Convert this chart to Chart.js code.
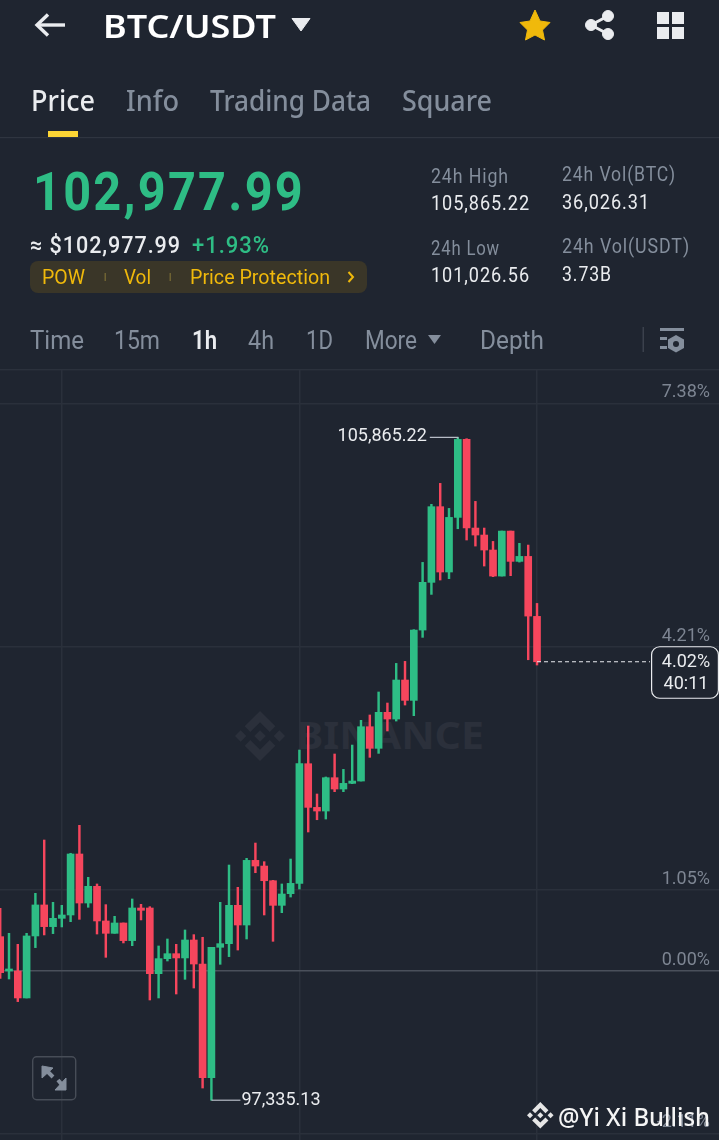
<!DOCTYPE html>
<html><head><meta charset="utf-8">
<script src="https://cdn.jsdelivr.net/npm/chart.js@4/dist/chart.umd.js"></script>
<style>
html,body{margin:0;padding:0;background:#1f2530;width:719px;height:1140px;overflow:hidden}
#page{position:relative;width:719px;height:1140px;overflow:hidden;background:#1f2530}
.t{position:absolute;z-index:3;white-space:nowrap;transform-origin:0 50%;font-family:"Noto Sans",sans-serif;line-height:1.2}
.s{position:absolute}
#bg{z-index:0}
#wrap{position:absolute;z-index:1;left:0;top:370px;width:719px;height:770px}
#fg{z-index:2}
</style></head><body><div id="page">
<svg class="s" style="left:0;top:0" width="719" height="1140" id="bg"></svg>
<div id="wrap"><canvas id="c" width="719" height="770"></canvas></div>
<svg class="s" style="left:0;top:0;pointer-events:none" width="719" height="1140" id="fg"></svg>
</div>
<script>
// ---- chart data ----
const candleIndex=[-1,0,1,2,3,4,5,6,7,8,9,10,11,12,13,14,15,16,17,18,19,20,21,22,23,24,25,26,27,28,29,30,31,32,33,34,35,36,37,38,39,40,41,42,43,44,45,46,47,48,49,50,51,52,53,54,55,56,57,58,59,60];
const opens=[99440,98998,98998,98651,99449,99848,99569,99676,99719,100504,99873,100088,99642,99483,99616,99389,99809,99809,98964,99157,99221,99166,99397,99088,97625,99303,99350,99843,99590,100422,100349,100160,99843,99993,100126,101666,101104,101057,101486,101340,101413,101443,102142,101864,102327,102241,102743,102481,103386,104000,104974,104133,104836,105840,104699,104609,104416,104081,104660,104270,104334,103562];
const highs=[99805,99483,99341,99483,99998,100684,99882,99843,100513,100873,100204,100118,99852,99702,99616,99925,99856,99826,99320,99410,99341,99526,99466,99432,99303,99882,100362,100075,100448,100645,100405,100165,100118,100439,101842,102151,101276,101495,101791,101593,101906,102224,102293,102589,102447,102957,102983,103391,104257,105004,105274,104952,105865.22,105849,105042,104699,104527,104660,104660,104502,104480,103729];
const lows=[98904,98895,98604,98651,99299,99462,99479,99565,99633,99663,99818,99474,99174,99483,99359,99324,99655,98625,98651,99127,98702,98891,98779,97492,97335.13,99084,99183,99268,99410,100263,99719,99380,99749,99950,100053,100787,100945,100954,101306,101306,101409,101443,101748,101799,102087,102215,102421,102284,103292,103845,104030,104047,104690,104545,104467,104210,104073,104081,104086,104261,103004,102936];
const closes=[98977,99024,98651,99449,99848,99569,99676,99719,100504,99873,100088,99642,99483,99616,99389,99809,99779,98964,99157,99221,99166,99397,99088,97625,99303,99350,99843,99590,100422,100349,100160,99843,99989,100126,101666,101104,101057,101486,101340,101413,101443,102142,101864,102327,102241,102743,102481,103386,104000,104974,104133,104836,105840,104699,104609,104416,104081,104660,104270,104334,103566,102977.99];
const baselinePrice=98998;
const gridPercents=[7.38,4.21,1.05,0,-2.11];
const gridLabels=["7.38%","4.21%","1.05%","0.00%","-2.11%"];
const verticalGrid=[6,33,60];
const highLabel="105,865.22", lowLabel="97,335.13";
const lastLabel="4.02%", countdownLabel="40:11";

const GREEN="#2ebd85", RED="#f6465d", GREY="#848e9c";
const up=candleIndex.map((k,i)=>closes[i]>=opens[i]);
const colors=up.map(u=>u?GREEN:RED);

// ---- page furniture ----
const page=document.getElementById('page');
function T(text,x,w,cy,size,color,weight,family,extra){
  const d=document.createElement('div');d.className='t';d.textContent=text;
  d.style.cssText+=`left:${x}px;font-size:${size}px;color:${color};font-weight:${weight||400};top:${cy-size*0.6}px;`+(family?`font-family:${family};`:'')+(extra||'');
  page.appendChild(d);
  const real=d.getBoundingClientRect().width;
  d.style.transform=`scaleX(${w/real})`;
  return d;
}
const NS='"Noto Sans",sans-serif', RB='Roboto,sans-serif';
const SP1='letter-spacing:1px;', SP3='letter-spacing:2.5px;';
T("BTC/USDT",103,173,26,33,"#fff",600,NS);
T("Price",31,64,101,28,"#eaecef",500,NS);
T("Info",126,53,101,28,GREY,500,NS);
T("Trading Data",210,161,101,28,GREY,500,NS);
T("Square",402,90,101,28,GREY,500,NS);
T("102,977.99",33,272,192,54,GREEN,700,RB,SP3);
T("≈ $102,977.99",30,151,246,23,"#eaecef",500,RB,SP1);
T("+1.93%",192,78,246,23,GREEN,500,RB,SP1);
T("POW",42,43,277,20,"#f0b90b",400,RB);
T("Vol",124,27,277,20,"#f0b90b",400,RB);
T("Price Protection",190,140,277,20,"#f0b90b",400,RB);
T("24h High",431,78,176,20,GREY,400,RB,SP1);
T("105,865.22",431,99,204,19.5,"#eaecef",400,RB,SP1);
T("24h Vol(BTC)",562,114,174,20,GREY,400,RB,SP1);
T("36,026.31",562,88,203,19.5,"#eaecef",400,RB,SP1);
T("24h Low",431,69,248,20,GREY,400,RB,SP1);
T("101,026.56",431,99,276,19.5,"#eaecef",400,RB,SP1);
T("24h Vol(USDT)",562,128,246,20,GREY,400,RB,SP1);
T("3.73B",562,50,275,19.5,"#eaecef",400,RB,SP1);
T("Time",30,54,341,25,GREY,400,RB);
T("15m",114,46,341,25,GREY,400,RB);
T("1h",192,25,341,25,"#eaecef",600,RB);
T("4h",248,26,341,25,GREY,400,RB);
T("1D",306,27,341,25,GREY,400,RB);
T("More",365,52,341,25,GREY,400,RB);
T("Depth",480,64,341,25,GREY,400,RB);
T("@Yi Xi Bullish",558,152,1116,25,"#f5f5f5",500,NS);
T("BINANCE",296,188,735,38,"#2b303b",700,NS).style.zIndex=0;

const logo=`<path d="m38.73 53.2 24.59-24.58 24.6 24.6 14.3-14.31L63.32 0 24.43 38.9z"/><path d="m0 63.31 14.3-14.31 14.31 14.31-14.31 14.3z"/><path d="m38.73 73.41 24.59 24.59 24.6-24.6 14.31 14.29-38.9 38.91-38.91-38.88z"/><path d="m98 63.31 14.3-14.31 14.31 14.3-14.31 14.32z"/><path d="m77.83 63.3-14.51-14.52-10.73 10.73-1.24 1.23-2.54 2.54 14.51 14.5 14.51-14.52z"/>`;
document.getElementById('bg').innerHTML=
 `<g transform="translate(235,711) scale(0.395)" fill="#2b303b">${logo}</g>`;
document.getElementById('fg').innerHTML=`
 <g stroke="#eaecef" stroke-width="3.4" fill="none"><path d="M37 25H65"/><path d="M48 14.5L37 25L48 35.5"/></g>
 <path d="M292 18.5H310L301 31Z" fill="#eaecef" stroke="#eaecef" stroke-linejoin="round"/>
 <path d="M535 10L540 21L550 22.5L542.5 30L544.5 40L535 35L525.5 40L527.5 30L520 22.5L530 21Z" fill="#f0b90b" stroke="#f0b90b" stroke-linejoin="round"/>
 <g fill="#eaecef" stroke="#eaecef"><circle cx="608" cy="16" r="5.5"/><circle cx="591" cy="25" r="5.5"/><circle cx="608" cy="34" r="5.5"/><path d="M608 16L591 25L608 34" fill="none" stroke-width="3"/></g>
 <g fill="#eaecef"><rect x="657" y="12" width="12" height="12"/><rect x="672" y="12" width="12" height="12"/><rect x="657" y="27" width="12" height="12"/><rect x="672" y="27" width="12" height="12"/></g>
 <rect x="48" y="131" width="30" height="6" fill="#fcd535"/>
 <rect x="0" y="137" width="719" height="1.2" fill="#2f3540"/>
 <rect x="30" y="261" width="337" height="32" rx="8" fill="#3a3628"/>
 <rect x="104.5" y="273" width="1.5" height="8" fill="#6e6232"/><rect x="169.5" y="273" width="1.5" height="8" fill="#6e6232"/>
 <path d="M348.5 272L353 277L348.5 282" fill="none" stroke="#f0b90b" stroke-width="2"/>
 <path d="M428 335H441L434.5 344Z" fill="${GREY}"/>
 <rect x="642.5" y="327" width="1.5" height="25" fill="#3b414c"/>
 <g fill="${GREY}"><rect x="660" y="328" width="24" height="3"/><rect x="660" y="337" width="7" height="3"/><rect x="660" y="346" width="7" height="3"/>
 <path d="M676 335L684 339.5V348L676 352.5L668 348V339.5Z"/><circle cx="676" cy="344" r="3" fill="#1f2530"/></g>
 <rect x="0" y="369" width="719" height="1.4" fill="#2b313c"/>
 <rect x="32.7" y="1056.7" width="43" height="43" rx="4" fill="none" stroke="#474d57" stroke-width="1.4"/>
 <g fill="${GREY}" stroke="${GREY}"><path d="M42 1066L53 1068L42 1078Z"/><path d="M66 1090L55 1090L66 1078Z"/><path d="M46 1070L53 1077M58 1080L63 1086" stroke-width="4" fill="none"/></g>
 <g transform="translate(527,1102) scale(0.21)" fill="#e6e6e6">${logo}</g>`;

// ---- chart ----
const annot={id:'annot',afterDatasetsDraw(ch){
  const c=ch.ctx,X=ch.scales.x,Y=ch.scales.y;
  const hi=highs.indexOf(Math.max(...highs)), lo=lows.indexOf(Math.min(...lows));
  const hx=X.getPixelForValue(candleIndex[hi]), hy=Y.getPixelForValue(highs[hi]);
  const lx=X.getPixelForValue(candleIndex[lo]), ly=Y.getPixelForValue(lows[lo]);
  const last=closes[closes.length-1], lastX=X.getPixelForValue(candleIndex[candleIndex.length-1]), lastY=Y.getPixelForValue(last);
  c.save();
  c.strokeStyle="#b7bdc6";c.lineWidth=1.2;
  c.beginPath();c.moveTo(hx,hy+1);c.lineTo(hx,hy);c.lineTo(hx-28,hy);c.stroke();
  c.beginPath();c.moveTo(lx,ly);c.lineTo(lx+29,ly);c.stroke();
  c.font='18px Roboto';c.fillStyle='#eaecef';c.textBaseline='middle';
  c.textAlign='right';c.fillText(highLabel,hx-31,hy-1);
  c.textAlign='left';c.fillText(lowLabel,lx+30,ly);
  c.strokeStyle='#eaecef';c.lineWidth=1.1;c.setLineDash([4,3]);
  c.beginPath();c.moveTo(lastX,lastY);c.lineTo(650,lastY);c.stroke();c.setLineDash([]);
  c.fillStyle='#1f2530';c.strokeStyle='#eaecef';c.lineWidth=1.2;
  c.beginPath();c.roundRect(651.6,lastY-15,66.8,51.5,8);c.fill();c.stroke();
  c.fillStyle='#eaecef';c.textAlign='center';c.font='18px Roboto';
  c.fillText(lastLabel,686,lastY+1);c.fillText(countdownLabel,686,lastY+23);
  c.restore();
}};
new Chart(document.getElementById('c'),{
  type:'bar',
  data:{datasets:[
    {data:candleIndex.map((k,i)=>({x:k,y:[lows[i],highs[i]]})),backgroundColor:colors,barThickness:1.8,grouped:false,borderWidth:0},
    {data:candleIndex.map((k,i)=>({x:k,y:[Math.min(opens[i],closes[i]),Math.max(opens[i],closes[i])]})),backgroundColor:colors,barThickness:7,minBarLength:2,grouped:false,borderWidth:0}
  ]},
  plugins:[annot],
  options:{responsive:false,animation:false,devicePixelRatio:1,
    layout:{padding:0},
    plugins:{legend:{display:false},tooltip:{enabled:false}},
    scales:{
      x:{type:'linear',min:-1.0227,max:80.68,offset:false,
        afterBuildTicks:a=>{a.ticks=verticalGrid.map(v=>({value:v}))},
        afterFit:a=>{a.height=0;a.paddingLeft=a.paddingRight=0},
        border:{display:false},ticks:{display:false},
        grid:{offset:false,color:"#2a303b",lineWidth:1.5,drawTicks:false}},
      y:{type:'linear',position:'right',min:96823,max:106733,
        afterBuildTicks:a=>{a.ticks=gridPercents.map(p=>({value:baselinePrice*(1+p/100)}))},
        afterFit:a=>{a.width=0;a.paddingTop=a.paddingBottom=0},
        border:{display:false},
        ticks:{mirror:true,padding:-9,labelOffset:-11,color:"#7d8592",font:{family:'Roboto',size:18},
          callback:(v,i)=>gridLabels[i]},
        grid:{drawTicks:false,lineWidth:c=>c.index===3?1.6:1.5,color:c=>c.index===3?"#4a505b":"#2a303b"}}
    }
  }
});
</script></body></html>
